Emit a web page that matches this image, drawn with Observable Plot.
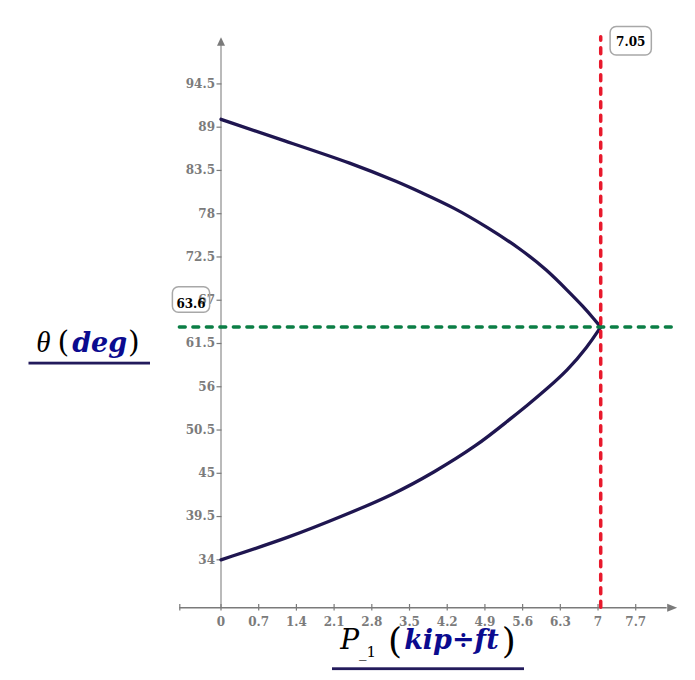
<!DOCTYPE html>
<html><head><meta charset="utf-8">
<script src="https://cdn.jsdelivr.net/npm/d3@7"></script>
<script src="https://cdn.jsdelivr.net/npm/@observablehq/plot@0.6"></script>
<style>body{margin:0;background:#fff} svg{display:block}</style>
</head><body><div id="chart"></div>
<script>
// Upper branch of the curve (P_1 in kip/ft, theta in deg)
const upperP     = [0, 1.16, 2.46, 3.33, 3.70, 4.32, 4.94, 5.56, 6.06, 6.43, 6.74, 6.92, 7.05];
const upperTheta = [90, 87.3, 84.35, 81.9, 80.74, 78.8, 76.3, 73.55, 70.8, 68.25, 66.1, 64.65, 63.6];
// Lower branch
const lowerP     = [0, 1.28, 2.27, 3.2, 3.95, 4.75, 5.34, 5.68, 6.06, 6.43, 6.80, 7.05];
const lowerTheta = [34, 36.87, 39.6, 42.3, 45.1, 48.5, 51.75, 53.6, 55.8, 58.07, 61.03, 63.6];
// Marker values
const peakP = 7.05;
const peakTheta = 63.6;
// Ticks
const xTicks = [0, 0.7, 1.4, 2.1, 2.8, 3.5, 4.2, 4.9, 5.6, 6.3, 7, 7.7];
const yTicks = [34, 39.5, 45, 50.5, 56, 61.5, 67, 72.5, 78, 83.5, 89, 94.5];
// Axis extents
const xMin = -0.765, xMax = 8.47;
const yMin = 27.9, yMax = 100.44;

const upper = upperP.map((p, i) => ({p, t: upperTheta[i]}));
const lower = lowerP.map((p, i) => ({p, t: lowerTheta[i]}));

const arrowRight = {draw(ctx) { ctx.moveTo(0, 0); ctx.lineTo(-10, -4); ctx.lineTo(-10, 4); ctx.closePath(); }};
const arrowUp = {draw(ctx) { ctx.moveTo(0, 0); ctx.lineTo(-4, 8.5); ctx.lineTo(4, 8.5); ctx.closePath(); }};

const tickFont = {fontFamily: "DejaVu Serif", fontWeight: "bold", fontSize: 12, fill: "#7b7b7b"};
const xArrowBase = xMax - 10 / 53.86;
const yArrowBase = yMax - 8.3 / 7.865;

const chart = Plot.plot({
  width: 695,
  height: 680,
  marginLeft: 179.3,
  marginRight: 18.3,
  marginTop: 36.7,
  marginBottom: 72.7,
  x: {domain: [xMin, xMax], axis: null},
  y: {domain: [yMin, yMax], axis: null},
  style: {fontFamily: "DejaVu Serif", background: "#fff"},
  marks: [
    // y axis
    Plot.ruleX([0], {y1: yMin, y2: yArrowBase, stroke: "#a3a3a3", strokeWidth: 1.5}),
    Plot.dot([0], {x: d => d, y: yMax, symbol: arrowUp, fill: "#7a7a7a", stroke: "none"}),
    Plot.ruleY(yTicks, {y: d => d, x1: 0, x2: 0, insetLeft: -4, insetRight: -1, stroke: "#7a7a7a", strokeWidth: 1.2}),
    Plot.text(yTicks, {x: 0, y: d => d, text: d => String(d), textAnchor: "end", dx: -6, ...tickFont}),
    // x axis
    Plot.ruleY([yMin], {x1: xMin, x2: xArrowBase, stroke: "#7a7a7a", strokeWidth: 1.5}),
    Plot.dot([xMax], {x: d => d, y: yMin, symbol: arrowRight, fill: "#7a7a7a", stroke: "none"}),
    Plot.ruleX([xMin, ...xTicks], {x: d => d, y1: yMin, y2: yMin, insetTop: -3.3, insetBottom: -3.3, stroke: "#7a7a7a", strokeWidth: 1.2}),
    Plot.text(xTicks, {x: d => d, y: yMin, text: d => String(d), dy: 14, ...tickFont}),
    // curve
    Plot.line(upper, {x: "p", y: "t", curve: "basis", stroke: "#1f1650", strokeWidth: 3.3}),
    Plot.line(lower, {x: "p", y: "t", curve: "basis", stroke: "#1f1650", strokeWidth: 3.3}),
    // markers
    Plot.ruleY([peakTheta], {y: d => d, x1: xMin, x2: xMax, stroke: "#0b7e45", strokeWidth: 3.3, strokeDasharray: "6,7.5", strokeLinecap: "round"}),
    Plot.ruleX([peakP], {x: d => d, y1: yMin, y2: yMax, stroke: "#e8192c", strokeWidth: 3.5, strokeDasharray: "6,7.5", strokeLinecap: "round"}),
    // marker value labels
    Plot.text([peakP], {x: d => d, y: yMax, text: d => d.toFixed(2), dx: 30, dy: 5, fontFamily: "DejaVu Serif", fontWeight: "bold", fontSize: 12, fill: "#000", className: "vlabelA"}),
    Plot.text([peakTheta], {x: 0, y: d => d, text: d => d.toFixed(1), dx: -30, dy: -23, fontFamily: "DejaVu Serif", fontWeight: "bold", fontSize: 12, fill: "#000", className: "vlabelB"})
  ]
});

document.getElementById("chart").appendChild(chart);
const svg = d3.select(chart);

// boxes around value labels
function box(sel, padTop, padBottom, padX) {
  svg.selectAll(sel + " text").each(function() {
    const b = this.getBBox();
    d3.select(this.parentNode).insert("rect", "text")
      .attr("x", b.x - padX).attr("y", b.y - padTop)
      .attr("width", b.width + 2 * padX).attr("height", b.height + padTop + padBottom)
      .attr("rx", 6).attr("ry", 6)
      .attr("fill", "none").attr("stroke", "#a8a8a8").attr("stroke-width", 1.5)
      .attr("transform", this.getAttribute("transform"));
  });
}
box(".vlabelA", 8.5, 6, 6);
box(".vlabelB", 10, 1.5, 4);

// y axis title
const yl = svg.append("text").attr("x", 88).attr("y", 352).attr("text-anchor", "middle")
  .attr("font-family", "DejaVu Serif").attr("font-size", 27).attr("fill", "#000");
yl.append("tspan").attr("font-style", "italic").attr("font-family", "Liberation Serif").attr("font-size", 29).text("θ");
yl.append("tspan").attr("dx", 7).attr("font-size", 30).text("(");
yl.append("tspan").attr("dx", 3).attr("font-style", "italic").attr("font-weight", "bold").attr("fill", "#0b0b8f").text("deg");
yl.append("tspan").attr("dx", 1).attr("font-size", 30).text(")");
svg.append("rect").attr("x", 28.5).attr("y", 361.7).attr("width", 121.5).attr("height", 2.8).attr("fill", "#231b5c");

// x axis title
const xl = svg.append("text").attr("x", 428).attr("y", 649).attr("text-anchor", "middle")
  .attr("font-family", "DejaVu Serif").attr("font-size", 27).attr("fill", "#000");
xl.append("tspan").attr("font-style", "italic").attr("font-size", 28).text("P");
xl.append("tspan").attr("font-size", 15).attr("dy", 8).text("_1");
xl.append("tspan").attr("dy", -4).attr("dx", 12).attr("font-size", 36).text("(");
xl.append("tspan").attr("dy", -4).attr("dx", 2).attr("font-style", "italic").attr("font-weight", "bold").attr("fill", "#0b0b8f").text("kip÷ft");
xl.append("tspan").attr("dy", 4).attr("dx", 3).attr("font-size", 36).text(")");
svg.append("rect").attr("x", 332).attr("y", 667.3).attr("width", 192).attr("height", 2.8).attr("fill", "#231b5c");
</script>
</body></html>
